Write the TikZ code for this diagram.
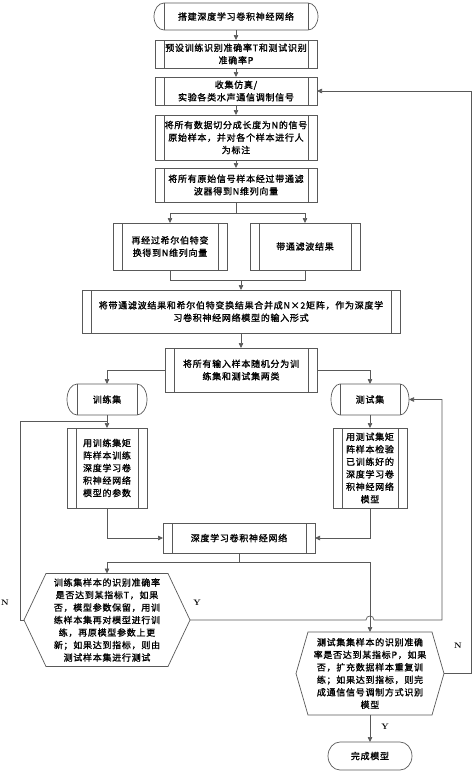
\documentclass[tikz,border=0pt]{standalone}
\usepackage{fontspec}
\newfontfamily\cjk[LetterSpace=8,FakeBold=1.2]{Noto Sans CJK SC}
\usetikzlibrary{arrows.meta,calc}
\newcommand\termpath[3]{%
  \draw[ln] ([xshift=#2]#1.north west) -- ([xshift=-#2]#1.north east)
    .. controls ([xshift=-0.448*#2]#1.north east) and ([yshift=0.552*#3]#1.east) .. (#1.east)
    .. controls ([yshift=-0.552*#3]#1.east) and ([xshift=-0.448*#2]#1.south east) .. ([xshift=-#2]#1.south east)
    -- ([xshift=#2]#1.south west)
    .. controls ([xshift=0.448*#2]#1.south west) and ([yshift=-0.552*#3]#1.west) .. (#1.west)
    .. controls ([yshift=0.552*#3]#1.west) and ([xshift=0.448*#2]#1.north west) .. cycle;}
\newcommand\termlines[2]{%
  \draw[ln] ([xshift=#2]#1.north west) -- ([xshift=#2]#1.south west);
  \draw[ln] ([xshift=-#2]#1.north east) -- ([xshift=-#2]#1.south east);}
\newcommand\hexpath[2]{%
  \draw[ln] ([xshift=#2]#1.north west) -- ([xshift=-#2]#1.north east) -- (#1.east)
    -- ([xshift=-#2]#1.south east) -- ([xshift=#2]#1.south west) -- (#1.west) -- cycle;}
\begin{document}
\begin{tikzpicture}[x=1pt,y=-1pt,
  ln/.style={draw=black!65, line width=0.7pt},
  arr/.style={ln, -{Triangle[length=5pt,width=4.5pt]}},
  txt/.style={font=\cjk\fontsize{9}{12.5}\selectfont, align=center, inner sep=0pt, outer sep=0pt, rectangle},
  pbox/.style={txt, ln, path picture={
    \draw[black!65, line width=0.7pt] ([xshift=9pt]path picture bounding box.north west) -- ([xshift=9pt]path picture bounding box.south west);
    \draw[black!65, line width=0.7pt] ([xshift=-9pt]path picture bounding box.north east) -- ([xshift=-9pt]path picture bounding box.south east);}},
  lbl/.style={font=\bfseries\fontsize{8}{9}\selectfont, inner sep=0pt}
]
\fill[white] (0,0) rectangle (474,772);
\useasboundingbox (0,0) rectangle (474,772);

% nodes
\node[txt, minimum width=164pt, minimum height=27pt] (s) at (236,16.5) {搭建深度学习卷积神经网络};
\termpath{s}{10pt}{13.5pt}
\termlines{s}{10pt}
\node[pbox, minimum width=162pt, minimum height=28pt] (b2) at (236,54) {预设训练识别准确率T和测试识别\\准确率P};
\node[pbox, minimum width=162pt, minimum height=28pt] (b3) at (236,91) {收集仿真/\\实验各类水声通信调制信号};
\node[pbox, minimum width=162pt, minimum height=45pt] (b4) at (236,137.5) {将所有数据切分成长度为N的信号\\原始样本，并对各个样本进行人\\为标注};
\node[pbox, minimum width=162pt, minimum height=34pt] (b5) at (236,185) {将所有原始信号样本经过带通滤\\波器得到N维列向量};
\node[pbox, minimum width=114pt, minimum height=47pt] (b6) at (170,246.5) {再经过希尔伯特变\\换得到N维列向量};
\node[pbox, minimum width=110pt, minimum height=47pt] (b7) at (305,246.5) {带通滤波结果};
\node[pbox, minimum width=318pt, minimum height=43pt] (b8) at (241,311.5) {将带通滤波结果和希尔伯特变换结果合并成N×2矩阵，作为深度学\\习卷积神经网络模型的输入形式};
\node[pbox, minimum width=152pt, minimum height=44pt] (b9) at (241,370) {将所有输入样本随机分为训\\练集和测试集两类};

\node[txt, minimum width=80pt, minimum height=31pt] (trainterm) at (107,399.5) {训练集};
\termpath{trainterm}{10pt}{15.5pt}
\termlines{trainterm}{10pt}
\node[txt, minimum width=78pt, minimum height=31pt] (testterm) at (370,399.5) {测试集};
\termpath{testterm}{9pt}{15.5pt}
\termlines{testterm}{9pt}

\node[pbox, minimum width=80pt, minimum height=80pt] (trainbox) at (107,468) {用训练集矩\\阵样本训练\\深度学习卷\\积神经网络\\模型的参数};
\node[pbox, minimum width=74pt, minimum height=80pt] (testbox) at (370,468) {用测试集矩\\阵样本检验\\已训练好的\\深度学习卷\\积神经网络\\模型};

\node[pbox, minimum width=152pt, minimum height=30pt] (net) at (239,538) {深度学习卷积神经网络};

\node[txt, minimum width=166pt, minimum height=93pt] (trainhex) at (107,620) {训练集样本的识别准确率\\是否达到某指标T，如果\\否，模型参数保留，用训\\练样本集再对模型进行训\\练，再原模型参数上更\\新；如果达到指标，则由\\测试样本集进行测试};
\hexpath{trainhex}{22pt}
\node[txt, minimum width=148pt, minimum height=83pt] (testhex) at (370,673.5) {测试集集样本的识别准确\\率是否达到某指标P，如果\\否，扩充数据样本重复训\\练；如果达到指标，则完\\成通信信号调制方式识别\\模型};
\hexpath{testhex}{12pt}

\node[txt, minimum width=84pt, minimum height=28pt] (endt) at (370,756) {完成模型};
\termpath{endt}{12pt}{14pt}

% labels
\node[lbl] (lN1) at (5,603) {N};
\node[lbl] (lY1) at (197,603) {Y};
\node[lbl] (lN2) at (458,646) {N};
\node[lbl] (lY2) at (385,727) {Y};

% helper coordinates
\coordinate (sp) at (236,213);
\coordinate (mg) at (241,280);
\coordinate (ns) at (239,562);
\coordinate (rx) at (471,0);
\coordinate (yx) at (442,0);
\coordinate (lx) at (20,0);
\coordinate (nj) at ($(trainterm.south)!0.5!(trainbox.north)$);
\coordinate (hc) at (trainhex.east -| testhex.north);

% connectors
\draw[arr] (s.south) -- (b2.north);
\draw[arr] (b2.south) -- (b3.north);
\draw[arr] (b3.south) -- (b4.north);
\draw[arr] (b4.south) -- (b5.north);
\draw[ln] (b5.south) -- (sp);
\draw[arr] (sp) -| (b6.north);
\draw[arr] (sp) -| (b7.north);
\draw[ln] (b6.south) |- (mg);
\draw[ln] (b7.south) |- (mg);
\draw[arr] (mg) -- (b8.north);
\draw[arr] (b8.south) -- (b9.north);
\draw[arr] (b9.west) -| (trainterm.north);
\draw[arr] (b9.east) -| (testterm.north);
\draw[arr] (trainterm.south) -- (trainbox.north);
\draw[arr] (testterm.south) -- (testbox.north);
\draw[arr] (trainbox.south) |- (net.west);
\draw[arr] (testbox.south) |- (net.east);
\draw[ln] (net.south) -- (ns);
\draw[arr] (ns) -| (trainhex.north);
\draw[arr] (ns) -| (testhex.north);
\draw[arr] (testhex.south) -- (endt.north);
% N branch of training
\draw[ln] (trainhex.west) -- (trainhex.west -| lx) -- (nj -| lx) -- (nj);
% Y branch of training to test set (with hop)
\draw[arr] (trainhex.east) -- ([xshift=-4pt]hc)
  .. controls ([xshift=-4pt,yshift=5.3pt]hc) and ([xshift=4pt,yshift=5.3pt]hc) .. ([xshift=4pt]hc)
  -- (trainhex.east -| yx) -- (testterm.east -| yx) -- (testterm.east);
% N branch of test back to collection
\draw[arr] (testhex.east) -- (testhex.east -| rx) -- (b3.east -| rx) -- (b3.east);
\end{tikzpicture}
\end{document}
